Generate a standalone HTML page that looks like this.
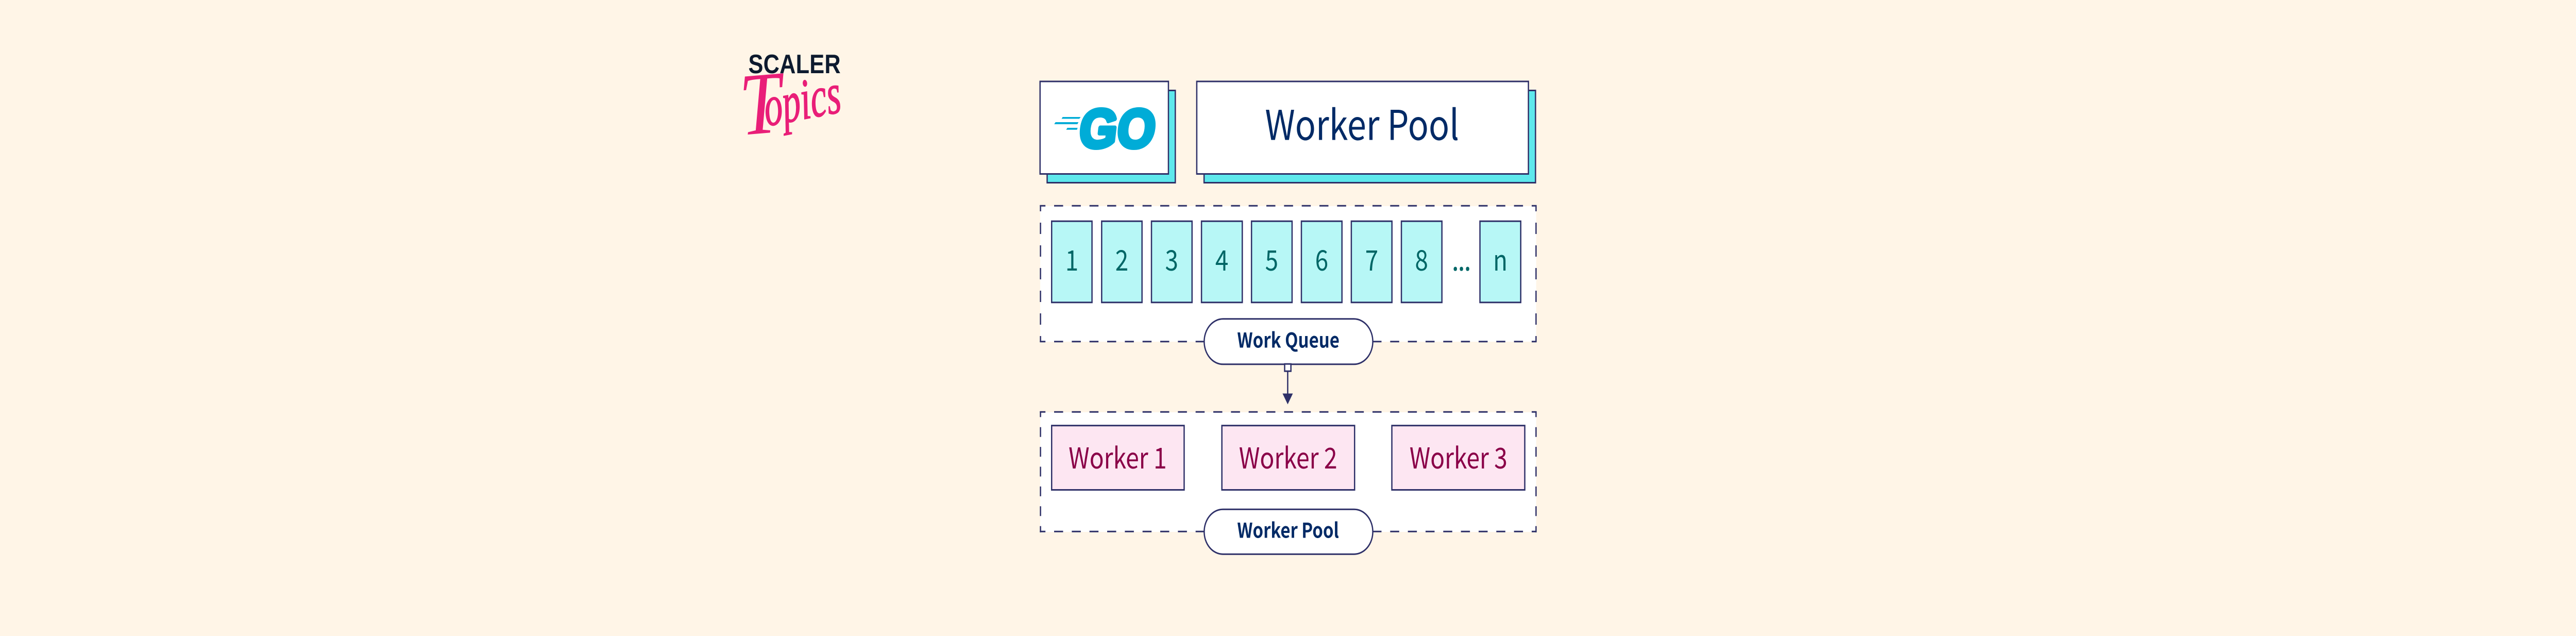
<!DOCTYPE html>
<html lang="en">
<head>
<meta charset="utf-8">
<title>Worker Pool</title>
<style>
html,body{margin:0;padding:0;background:#fff5e7;overflow:hidden;width:100%;height:1234px;}
svg{display:block;width:100%;height:1234px;}
.s{stroke:#2e3068;stroke-width:3;}
.d{stroke:#2e3068;stroke-width:3;fill:none;}
.h{stroke-dasharray:21 20.2;stroke-dashoffset:8;}
.v1{stroke-dasharray:22 22;stroke-dashoffset:10;}
.v2{stroke-dasharray:19 19.4;stroke-dashoffset:7.7;}
.c{fill:#b7f7f6;}
.w{fill:#fde6f2;}
text{font-family:"Noto Sans CJK JP","Liberation Sans",sans-serif;}
.n{font-size:55px;fill:#006666;text-anchor:middle;}
.wk{font-size:56px;fill:#8a0048;}
.p{font-size:40px;font-weight:700;fill:#012a66;}
</style>
</head>
<body>
<svg viewBox="0 0 6000 1234" preserveAspectRatio="none" xmlns="http://www.w3.org/2000/svg">
<rect width="6000" height="1234" fill="#fff5e7"/>

<!-- Logo -->
<text x="1743" y="142" font-size="52" font-weight="700" fill="#0d1a2e" textLength="215" lengthAdjust="spacing" style="font-family:'Liberation Sans',sans-serif">SCALER</text>
<g fill="#e91e78" style="font-style:italic">
<text transform="translate(1727 262) rotate(-4)" font-size="172" style="font-family:'Liberation Serif',serif">T</text>
<text transform="translate(1785 245) rotate(-9) scale(1 1.12)" font-size="100" stroke="#e91e78" stroke-width="1.5" textLength="180" lengthAdjust="spacingAndGlyphs" style="font-family:'Liberation Serif',serif">opics</text>
</g>

<!-- GO box -->
<rect class="s" x="2439" y="175.5" width="298.5" height="179" fill="#5ee8ec"/>
<rect class="s" x="2422.5" y="158" width="299" height="179.5" fill="#fff"/>
<polygon points="2475,227 2517,227 2514,230.5 2472.7,230.5" fill="#00acd7"/>
<polygon points="2458.5,237 2512,237 2509.5,241 2455.5,241" fill="#00acd7"/>
<polygon points="2486,248 2510,248 2508.5,251.7 2483.4,251.7" fill="#00acd7"/>
<text transform="translate(2510 286) skewX(-8) scale(1.07 1)" font-size="106" font-weight="700" fill="#00acd7" stroke="#00acd7" stroke-width="8" stroke-linejoin="round" style="font-family:'Liberation Sans',sans-serif">GO</text>

<!-- Title box -->
<rect class="s" x="2804.5" y="175.5" width="772" height="179" fill="#5ee8ec"/>
<rect class="s" x="2787.5" y="158" width="772.5" height="179.5" fill="#fff"/>
<text x="2946.5" y="271.5" font-size="80" fill="#012a66" textLength="452" lengthAdjust="spacingAndGlyphs">Worker Pool</text>

<!-- Work queue group -->
<rect x="2423" y="400" width="1155" height="263" fill="#fff"/>
<path class="d h" d="M2422 399.3H3579"/>
<path class="d h" d="M2422 662.7H3579"/>
<path class="d v1" d="M2423.5 398V664"/>
<path class="d v1" d="M3577.7 398V664"/>

<rect class="s c" x="2449.5" y="429.2" width="94" height="157.6"/>
<rect class="s c" x="2566" y="429.2" width="94" height="157.6"/>
<rect class="s c" x="2682" y="429.2" width="94.5" height="157.6"/>
<rect class="s c" x="2798.5" y="429.2" width="95" height="157.6"/>
<rect class="s c" x="2915" y="429.2" width="94.5" height="157.6"/>
<rect class="s c" x="3031.2" y="429.2" width="94.5" height="157.6"/>
<rect class="s c" x="3147.5" y="429.2" width="94.6" height="157.6"/>
<rect class="s c" x="3264.1" y="429.2" width="94.4" height="157.6"/>
<rect class="s c" x="3447.1" y="429.2" width="95" height="157.6"/>

<text class="n" x="2496.5" y="525">1</text>
<text class="n" x="2613" y="525">2</text>
<text class="n" x="2729" y="525">3</text>
<text class="n" x="2846" y="525">4</text>
<text class="n" x="2962" y="525">5</text>
<text class="n" x="3078.5" y="525">6</text>
<text class="n" x="3195" y="525">7</text>
<text class="n" x="3311" y="525">8</text>
<text x="3382" y="525" font-size="55" fill="#006666" stroke="#006666" stroke-width="0.5" textLength="44" lengthAdjust="spacing">...</text>
<text class="n" x="3494.5" y="525">n</text>

<rect class="s" x="2804.8" y="618.8" width="392.7" height="88" rx="44" ry="44" fill="#fff"/>
<text class="p" x="2881.7" y="674.3" textLength="238.3" lengthAdjust="spacingAndGlyphs">Work Queue</text>

<!-- Connector -->
<rect class="s" x="2992.2" y="706.2" width="14.6" height="14" fill="#fff"/>
<line class="s" x1="2999.3" y1="721" x2="2999.3" y2="765"/>
<polygon points="2987.3,763.5 3011.3,763.5 2999.3,784.5" fill="#2e3068"/>

<!-- Worker pool group -->
<rect x="2423" y="800" width="1155" height="232" fill="#fff"/>
<path class="d h" d="M2422 799.3H3579"/>
<path class="d h" d="M2422 1031.3H3579"/>
<path class="d v2" d="M2423.5 798V1033"/>
<path class="d v2" d="M3577.7 798V1033"/>

<rect class="s w" x="2449.5" y="825.7" width="308.6" height="124.8"/>
<rect class="s w" x="2846" y="825.7" width="309.1" height="124.8"/>
<rect class="s w" x="3241.9" y="825.7" width="309.6" height="124.8"/>
<text class="wk" x="2489" y="909" textLength="228.5" lengthAdjust="spacingAndGlyphs">Worker 1</text>
<text class="wk" x="2885.7" y="909" textLength="229" lengthAdjust="spacingAndGlyphs">Worker 2</text>
<text class="wk" x="3283" y="909" textLength="228" lengthAdjust="spacingAndGlyphs">Worker 3</text>

<rect class="s" x="2804.8" y="988.2" width="392.7" height="87" rx="43.5" ry="43.5" fill="#fff"/>
<text class="p" x="2881.7" y="1043.3" textLength="237" lengthAdjust="spacingAndGlyphs">Worker Pool</text>
</svg>
</body>
</html>
